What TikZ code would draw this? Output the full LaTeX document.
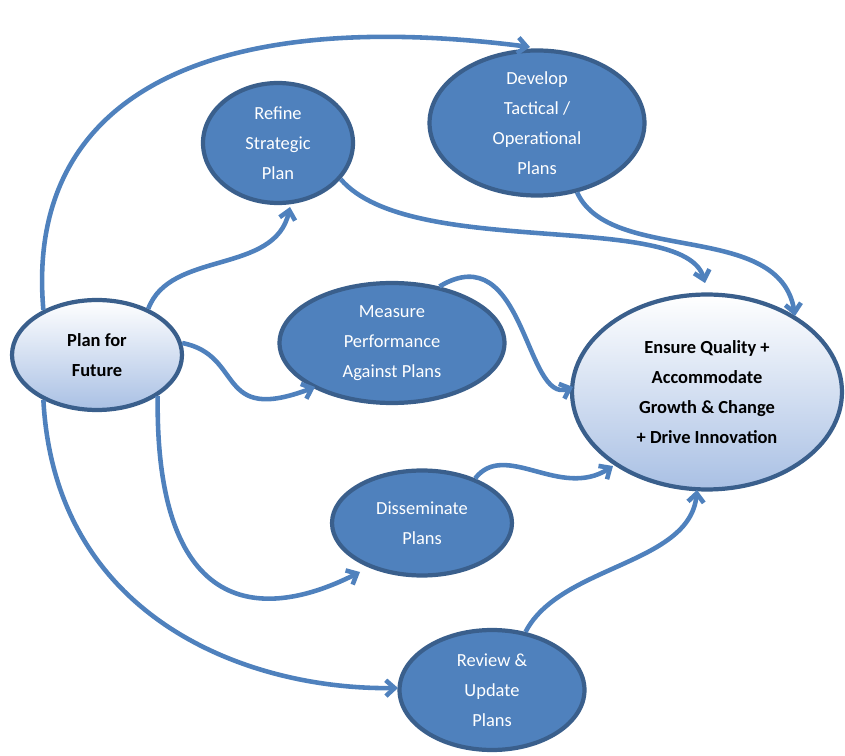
\documentclass[tikz,border=0pt]{standalone}
\usepackage{fontspec}
\setmainfont{Carlito}
\usetikzlibrary{arrows.meta,shapes.geometric}
\definecolor{fillb}{HTML}{4F81BD}
\definecolor{edgeb}{HTML}{3A5F8C}
\definecolor{lightb}{HTML}{A9C0E4}
\tikzset{
 ell/.style={ellipse,draw=edgeb,line width=2.4pt,fill=fillb,text=white,align=center,font=\fontsize{10.5}{17}\selectfont,inner sep=0pt},
 lell/.style={ellipse,draw=edgeb,line width=2.4pt,top color=white,bottom color=lightb,text=black,align=center,font=\bfseries\fontsize{10.5}{17}\selectfont,inner sep=0pt},
 conn/.style={draw=fillb,line width=2.6pt,-{Straight Barb[length=5pt,width=9pt]}}
}
\begin{document}
\begin{tikzpicture}[x=0.02cm,y=-0.02cm]
\useasboundingbox (0,0) rectangle (845,756);
\node[lell,minimum width=3.4cm,minimum height=2.2cm] (plan) at (97,355) {Plan for\\Future};
\node[ell,minimum width=3.0cm,minimum height=2.4cm] (refine) at (278,143) {Refine\\Strategic\\Plan};
\node[ell,minimum width=4.3cm,minimum height=2.7cm] (dev) at (537,123) {Develop\\Tactical /\\Operational\\Plans};
\node[ell,minimum width=4.5cm,minimum height=2.4cm] (meas) at (392,343) {Measure\\Performance\\Against Plans};
\node[lell,minimum width=5.4cm,minimum height=3.9cm] (ens) at (707,392) {Ensure Quality +\\Accommodate\\Growth \& Change\\+ Drive Innovation};
\node[ell,minimum width=3.6cm,minimum height=2.1cm] (dis) at (422,523) {Disseminate\\Plans};
\node[ell,minimum width=3.7cm,minimum height=2.4cm] (rev) at (492,690) {Review \&\\Update\\Plans};
\coordinate (e1) at (530,47); \coordinate (e2) at (290,207); \coordinate (e3) at (315,387);
\coordinate (e4) at (360,572); \coordinate (e5) at (398,688); \coordinate (e6) at (705,283);
\coordinate (e7) at (795,316); \coordinate (e8) at (573,387); \coordinate (e9) at (613,466);
\coordinate (e10) at (697,490);
\draw[conn] (plan.140) .. controls (25,100) and (200,5) .. (e1);
\draw[conn] (plan.42) .. controls (170,250) and (275,275) .. (e2);
\draw[conn] (plan.8) .. controls (245,355) and (215,425) .. (e3);
\draw[conn] (plan.326) .. controls (155,610) and (255,625) .. (e4);
\draw[conn] (plan.220) .. controls (55,620) and (250,690) .. (e5);
\draw[conn] (refine.330) .. controls (410,260) and (685,210) .. (e6);
\draw[conn] (dev.300) .. controls (610,265) and (780,220) .. (e7);
\draw[conn] (meas.50) .. controls (525,235) and (525,405) .. (e8);
\draw[conn] (dis.40) .. controls (505,440) and (560,500) .. (e9);
\draw[conn] (rev.60) .. controls (560,565) and (690,565) .. (e10);
\end{tikzpicture}
\end{document}
